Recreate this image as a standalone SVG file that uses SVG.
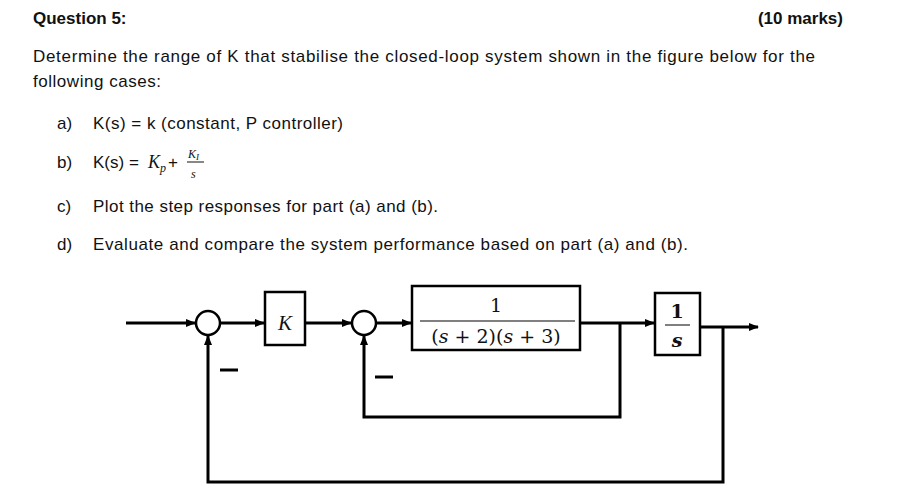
<svg xmlns="http://www.w3.org/2000/svg" width="900" height="502" viewBox="0 0 900 502">
<defs>
<style>
.t{font-family:"Liberation Sans",Arial,sans-serif;font-size:17px;fill:#111}
.b{font-weight:bold}
.m{font-family:"DejaVu Serif","Liberation Serif",serif;font-size:19px;fill:#111}
.mi{font-family:"Liberation Serif",serif;font-style:italic;fill:#111}
.w{stroke:#000;stroke-width:3;fill:none}
.bx{stroke:#000;stroke-width:2.5;fill:#fff}
</style>
<marker id="a" markerWidth="10" markerHeight="10" refX="9" refY="5" orient="auto" markerUnits="userSpaceOnUse"><path d="M0,1 L10,5 L0,9z" fill="#000"/></marker>
</defs>
<rect width="900" height="502" fill="#fff"/>
<text class="t b" x="33" y="24">Question 5:</text>
<text class="t b" x="843" y="24" text-anchor="end">(10 marks)</text>
<text class="t" x="33" y="62" textLength="782">Determine the range of K that stabilise the closed-loop system shown in the figure below for the</text>
<text class="t" x="33" y="87" textLength="128">following cases:</text>
<text class="t" x="57" y="129">a)</text><text class="t" x="93" y="129" textLength="250">K(s) = k (constant, P controller)</text>
<text class="t" x="57" y="168">b)</text><text class="t" x="93" y="168">K(s) = </text>
<text class="mi" x="148" y="168" font-size="18">K<tspan font-size="12" dy="4">p</tspan></text>
<text class="t" x="168" y="168" font-size="19">+</text>
<text class="mi" x="188" y="158" font-size="12">K<tspan font-size="9" dy="2">I</tspan></text>
<line x1="187" y1="162" x2="204" y2="162" stroke="#111" stroke-width="1"/>
<text class="mi" x="191" y="178" font-size="12">s</text>
<text class="t" x="57" y="212">c)</text><text class="t" x="93" y="212" textLength="345">Plot the step responses for part (a) and (b).</text>
<text class="t" x="57" y="250">d)</text><text class="t" x="93" y="250" textLength="595">Evaluate and compare the system performance based on part (a) and (b).</text>
<g id="connectors">
<line class="w" x1="126" y1="323" x2="195" y2="323" marker-end="url(#a)"/>
<line class="w" x1="220" y1="323" x2="264" y2="323" marker-end="url(#a)"/>
<line class="w" x1="305" y1="323" x2="351" y2="323" marker-end="url(#a)"/>
<line class="w" x1="376" y1="323" x2="411" y2="323" marker-end="url(#a)"/>
<line class="w" x1="580" y1="323" x2="654" y2="323" marker-end="url(#a)"/>
<line class="w" x1="700" y1="327" x2="758" y2="327" marker-end="url(#a)"/>
<polyline class="w" points="620,323 620,417 364,417 364,336" marker-end="url(#a)"/>
<polyline class="w" points="723,327 723,482 208,482 208,336" marker-end="url(#a)"/>
<line class="w" x1="220" y1="370" x2="238" y2="370"/>
<line class="w" x1="375" y1="377" x2="393" y2="377"/>
</g>
<g id="sum1"><circle class="bx" cx="208" cy="323" r="12"/></g>
<g id="K"><rect class="bx" x="265" y="292" width="40" height="53"/><text class="mi" x="285" y="330" font-size="21" text-anchor="middle">K</text></g>
<g id="sum2"><circle class="bx" cx="364" cy="323" r="12"/></g>
<g id="plant"><rect class="bx" x="412" y="286" width="168" height="64"/>
<text class="m" x="496" y="312" text-anchor="middle">1</text>
<line x1="420" y1="321" x2="575" y2="321" stroke="#000" stroke-width="1"/>
<text class="m" x="496" y="343" text-anchor="middle">(<tspan font-style="italic">s</tspan> + 2)(<tspan font-style="italic">s</tspan> + 3)</text></g>
<g id="integrator"><rect class="bx" x="655" y="293" width="45" height="62"/>
<text class="m" x="677" y="318" text-anchor="middle" font-weight="bold">1</text>
<line x1="665" y1="325" x2="690" y2="325" stroke="#000" stroke-width="1"/>
<text class="m" x="677" y="347" text-anchor="middle" font-style="italic" font-weight="bold">s</text></g>
</svg>
